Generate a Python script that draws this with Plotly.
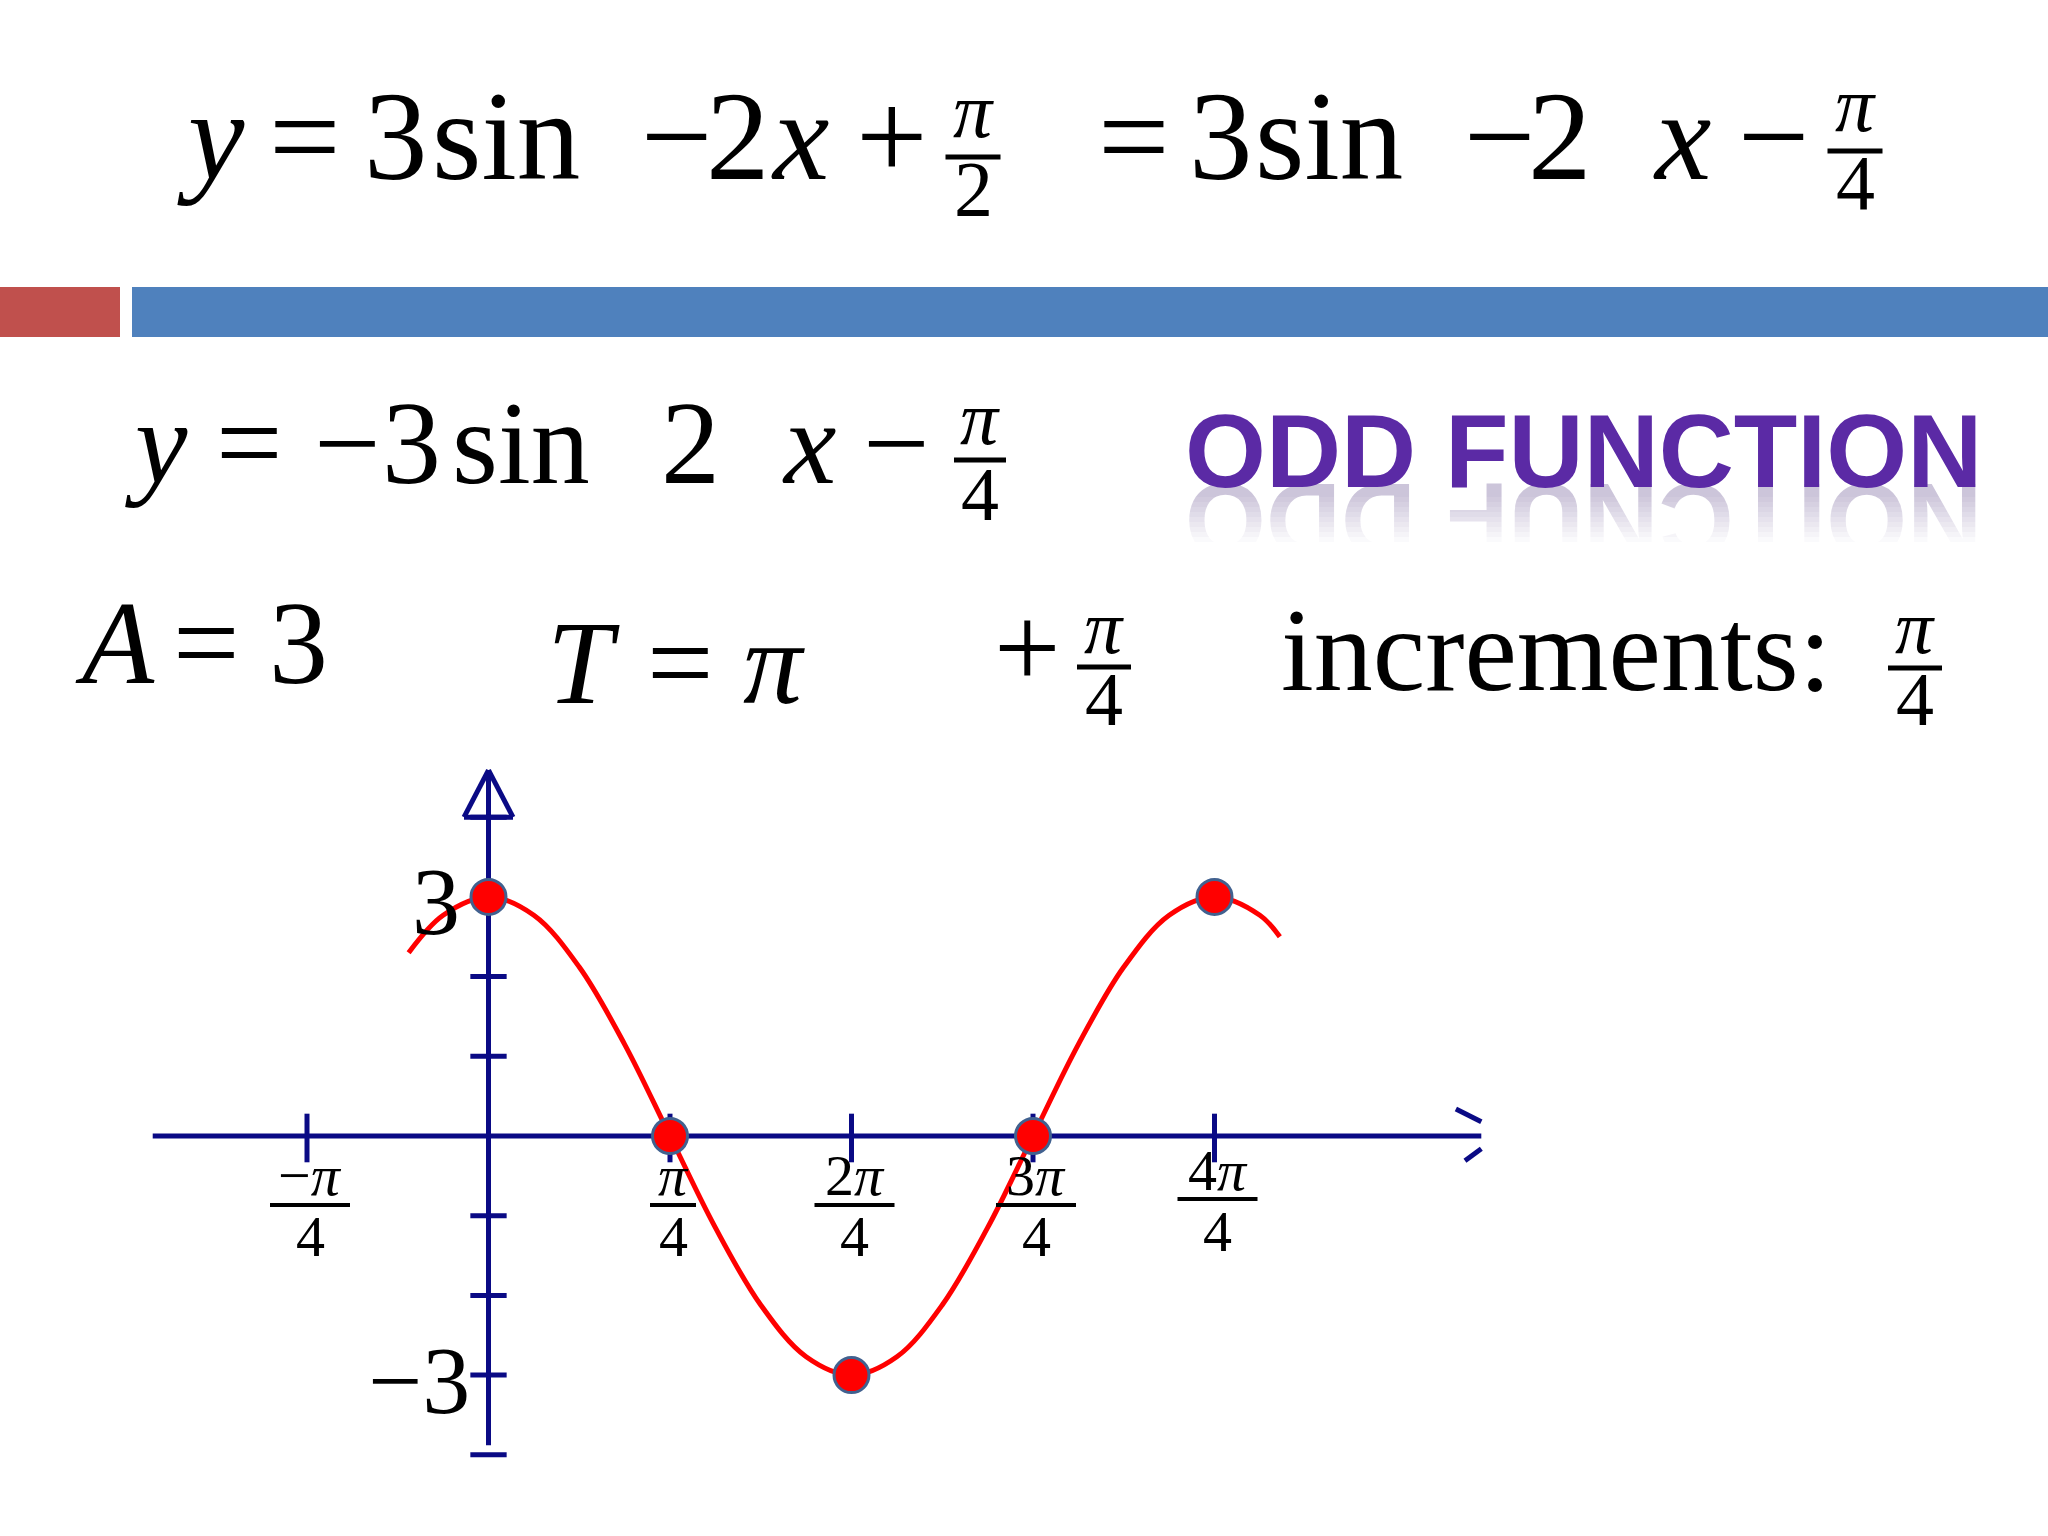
import plotly.graph_objects as go

W, H = 2048, 1536

# ---------------- data (x in multiples of pi/4) ----------------
curve_x = [-0.44, -0.25, 0, 0.25, 0.5, 0.75, 1, 1.25, 1.5, 1.75, 2, 2.25, 2.5,
           2.75, 3, 3.25, 3.5, 3.75, 4, 4.25, 4.36]
curve_y = [2.3, 2.77, 3, 2.77, 2.12, 1.15, 0, -1.15, -2.12, -2.77, -3, -2.77, -2.12,
           -1.15, 0, 1.15, 2.12, 2.77, 3, 2.77, 2.5]
key_x = [0, 1, 2, 3, 4]
key_y = [3, 0, -3, 0, 3]
x_ticks = [-1, 1, 2, 3, 4]
x_tick_num = ["−<i>π</i>", "<i>π</i>", "2<i>π</i>", "3<i>π</i>", "4<i>π</i>"]
x_tick_den = ["4", "4", "4", "4", "4"]
y_ticks = [-4, -3, -2, -1, 1, 2, 3, 4]
y_label_vals = [3, -3]
y_label_text = ["3", "−3"]

# ---------------- canvas mapping ----------------
X0, UX = 488.5, 181.5
Y0, UY = 1136.0, 79.7
xr = [(0 - X0) / UX, (W - X0) / UX]
yr = [(Y0 - H) / UY, Y0 / UY]

SERIF = "Liberation Serif, Times New Roman, serif"
SANS = "Liberation Sans, Arial, sans-serif"
K_SERIF = 0.3375
K_SANS = 0.3465
NAVY = "#0A0A85"

annotations = []
shapes = []


def txt(x, base, s, size, anchor="left", family=SERIF, k=K_SERIF, color="black", **kw):
    annotations.append(dict(x=x / W, y=1 - (base - k * size) / H, xref="paper", yref="paper",
                            text=s, showarrow=False, xanchor=anchor, yanchor="middle",
                            font=dict(family=family, size=size, color=color), borderpad=0, **kw))


def pline(x0, y0, x1, y1, color="black", width=4):
    shapes.append(dict(type="line", xref="paper", yref="paper", x0=x0 / W, x1=x1 / W,
                       y0=1 - y0 / H, y1=1 - y1 / H, line=dict(color=color, width=width)))


def frac(cx, num_base, bar_y, den_base, num, den, size, bar_w, bar_t=5):
    txt(cx, num_base, num, size, anchor="center")
    txt(cx, den_base, den, size, anchor="center")
    pline(cx - bar_w / 2, bar_y, cx + bar_w / 2, bar_y, width=bar_t)


# ---------------- header bars ----------------
shapes.append(dict(type="rect", xref="paper", yref="paper", x0=0, x1=120 / W,
                   y0=1 - 337 / H, y1=1 - 287 / H, fillcolor="#C0504D", line=dict(width=0)))
shapes.append(dict(type="rect", xref="paper", yref="paper", x0=132 / W, x1=1,
                   y0=1 - 337 / H, y1=1 - 287 / H, fillcolor="#4F81BD", line=dict(width=0)))

# ---------------- top equation ----------------
fs = 127
b = 179
for x, s in [(176, "<i>y</i>"), (268, "="), (363, "3"), (431, "sin"), (640, "−"),
             (705, "2"), (770, "<i>x</i>"), (855, "+"), (1097, "="), (1188, "3"),
             (1254, "sin"), (1463, "−"), (1527, "2"), (1652, "<i>x</i>"), (1737, "−")]:
    txt(x, b, s, fs)
frac(973, 137, 157, 215, "<i>π</i>", "2", 78, 55)
frac(1855, 131, 151, 209, "<i>π</i>", "4", 78, 55)

# ---------------- second equation ----------------
fs = 118
b = 483
for x, s in [(124, "<i>y</i>"), (215, "="), (313, "−"), (381, "3"), (451, "sin"),
             (660, "2"), (781, "<i>x</i>"), (862, "−")]:
    txt(x, b, s, fs)
frac(980, 444, 460, 520, "<i>π</i>", "4", 76, 52)

# ODD FUNCTION with a fading reflection (reflection drawn as a shape label, faded by white bands)
shapes.append(dict(type="rect", xref="paper", yref="paper", x0=1195 / W, x1=1972 / W,
                   y0=1 - 580 / H, y1=1 - 480 / H, line=dict(width=0), fillcolor="rgba(0,0,0,0)",
                   label=dict(text="<b>NOITCNUF DDO</b>", textangle=180, textposition="middle center",
                              padding=0, font=dict(family=SANS, size=104,
                                                   color="rgba(95,75,140,0.32)"))))
band_top = 497
for i in range(10):
    y0 = band_top + i * 5
    shapes.append(dict(type="rect", xref="paper", yref="paper", x0=1180 / W, x1=1990 / W,
                       y0=1 - (y0 + 5) / H, y1=1 - y0 / H, line=dict(width=0),
                       fillcolor="white", opacity=min(1.0, 0.1 * (i + 1))))
shapes.append(dict(type="rect", xref="paper", yref="paper", x0=1180 / W, x1=1990 / W,
                   y0=1 - 590 / H, y1=1 - (band_top + 50) / H, line=dict(width=0),
                   fillcolor="white"))
txt(1583, 487, "<b>ODD FUNCTION</b>", 104, anchor="center", family=SANS, k=K_SANS,
    color="#5B2AA5")

# ---------------- third row ----------------
fs = 118
txt(74, 683, "<i>A</i>", fs)
txt(172, 683, "=", fs)
txt(268, 683, "3", fs)
txt(546, 703, "<i>T</i>", fs)
txt(646, 703, "=", fs)
txt(742, 703, "<i>π</i>", fs)
txt(993, 688, "+", fs)
frac(1104, 653, 667, 725, "<i>π</i>", "4", 76, 54)
txt(1280, 690, "increments:", fs)
frac(1915, 653, 668, 725, "<i>π</i>", "4", 76, 54)

# ---------------- graph axes ----------------
def dline(x0, y0, x1, y1, width=5):
    shapes.append(dict(type="line", xref="x", yref="y", x0=x0, y0=y0, x1=x1, y1=y1,
                       layer="below", line=dict(color=NAVY, width=width)))


dline(-1.85, 0, 5.47, 0)          # x axis
dline(0, -3.88, 0, 4.59)          # y axis
# y arrow (open triangle)
dline(0, 4.59, -0.135, 4.0)
dline(0, 4.59, 0.135, 4.0)
dline(-0.135, 4.0, 0.135, 4.0)
# x arrow strokes
dline(5.33, 0.34, 5.47, 0.18)
dline(5.47, -0.16, 5.38, -0.31)

for t in x_ticks:
    dline(t, -0.33, t, 0.28)
for t in y_ticks:
    dline(-0.1, t, 0.1, t)

# y labels
for v, s, xs in zip(y_label_vals, y_label_text, [-28, -18]):
    annotations.append(dict(x=0, y=v, xref="x", yref="y", text=s, showarrow=False,
                            xanchor="right", yanchor="middle", xshift=xs, yshift=-5,
                            font=dict(family=SERIF, size=96, color="black"), borderpad=0))

# x tick labels (stacked fractions)
for t, num, den in zip(x_ticks, x_tick_num, x_tick_den):
    nb, by, db = 1195, 1205, 1256
    if t == 4:
        nb, by, db = 1190, 1199, 1251
    for s, base in [(num, nb), (den, db)]:
        annotations.append(dict(x=t, y=1 - (base - K_SERIF * 58) / H, xref="x", yref="paper",
                                text=s, showarrow=False, xanchor="center", yanchor="middle",
                                xshift=3, font=dict(family=SERIF, size=58, color="black"),
                                borderpad=0))
    bw = 46 if num == "<i>π</i>" else 80
    shapes.append(dict(type="line", xref="x", yref="paper", xsizemode="pixel", xanchor=t,
                       x0=-bw / 2 + 3, x1=bw / 2 + 3, y0=1 - by / H, y1=1 - by / H,
                       line=dict(color="black", width=4)))

fig = go.Figure()
fig.add_trace(go.Scatter(x=curve_x, y=curve_y, mode="lines", line=dict(color="#FF0000", width=5,
                         shape="spline", smoothing=1.0), hoverinfo="skip"))
fig.add_trace(go.Scatter(x=key_x, y=key_y, mode="markers",
                         marker=dict(size=35, color="#FF0000", line=dict(color="#41618F", width=3))))

fig.update_layout(
    width=W, height=H, margin=dict(l=0, r=0, t=0, b=0, pad=0),
    paper_bgcolor="white", plot_bgcolor="white", showlegend=False,
    xaxis=dict(range=xr, visible=False, fixedrange=True),
    yaxis=dict(range=yr, visible=False, fixedrange=True),
    shapes=shapes, annotations=annotations,
)

fig.write_html("out.html", config={"displayModeBar": False},
               post_script="document.body.style.margin='0';document.body.style.overflow='hidden';")
